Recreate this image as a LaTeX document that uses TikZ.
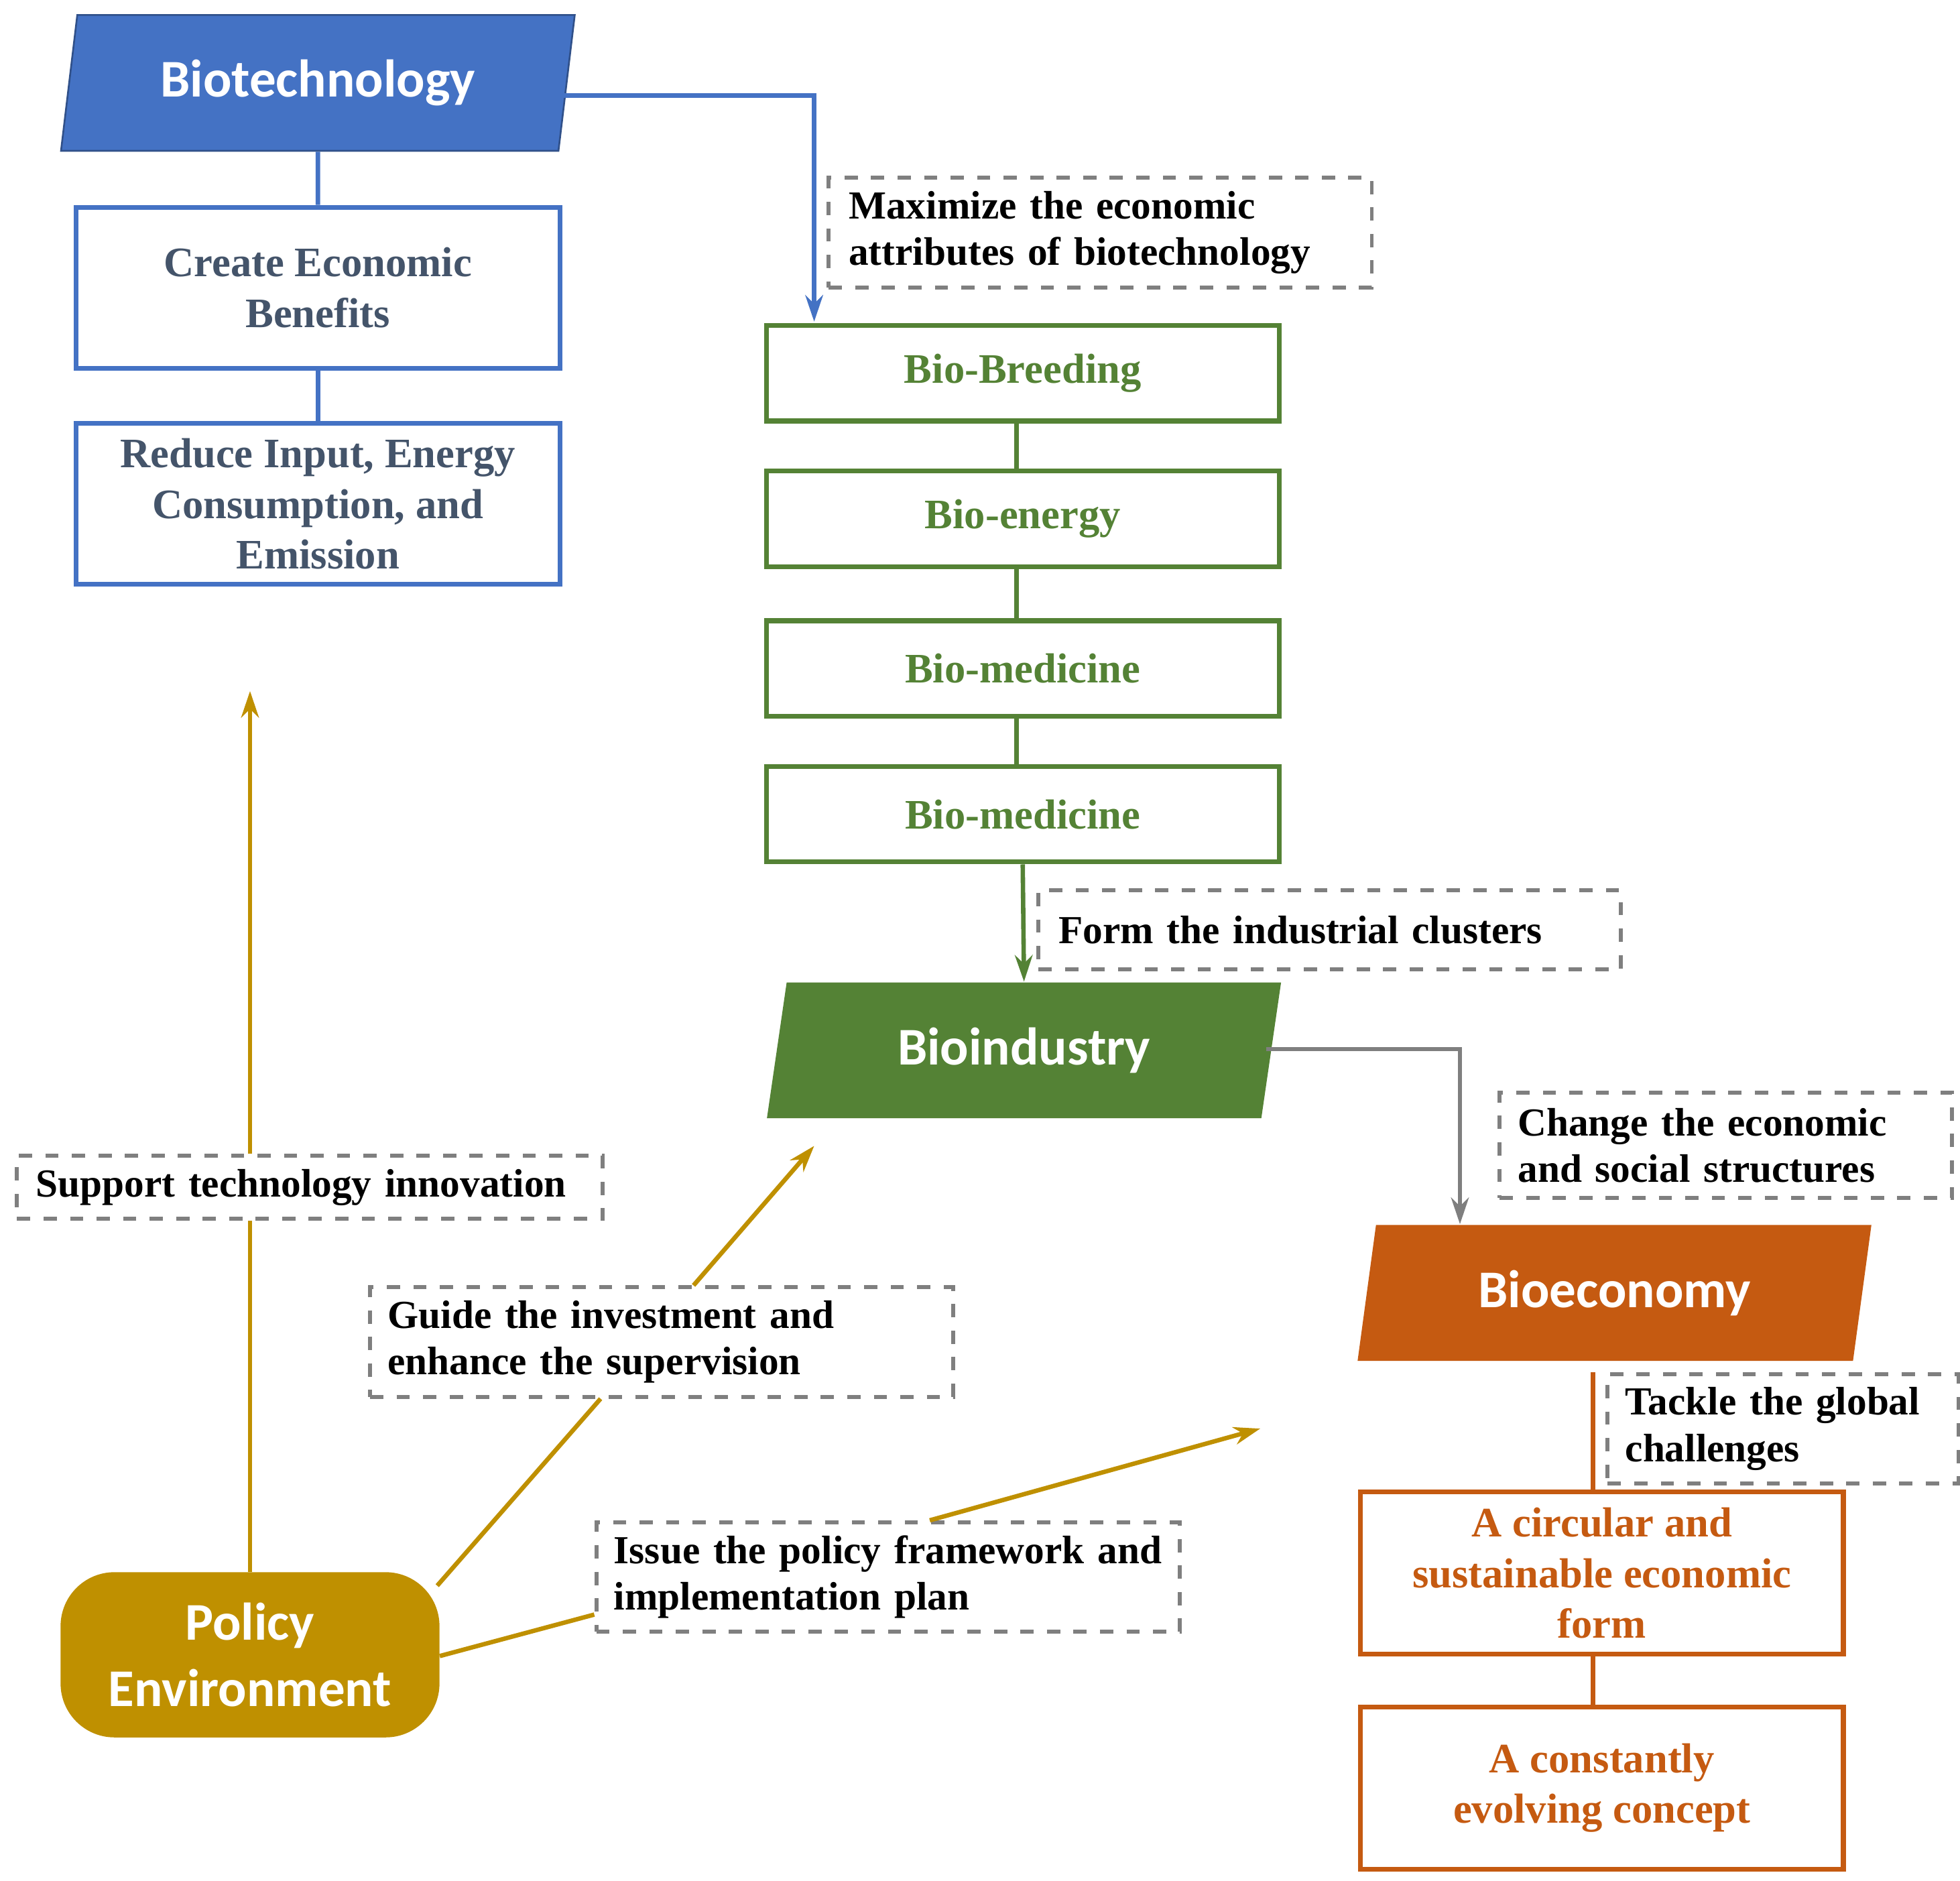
\documentclass[tikz,border=0pt]{standalone}
\usepackage{fontspec}
\setmainfont{Liberation Serif}
\newfontfamily\hdr{Carlito}
\usetikzlibrary{shapes.geometric,arrows.meta}
\definecolor{bluec}{HTML}{4472C4}
\definecolor{bluet}{HTML}{44546A}
\definecolor{greenc}{HTML}{548235}
\definecolor{orangec}{HTML}{C55A11}
\definecolor{goldc}{HTML}{BF9000}
\definecolor{greyc}{HTML}{7F7F7F}
\tikzset{
  head/.style={trapezium, trapezium left angle=77, trapezium right angle=103,
    trapezium stretches=true, minimum width=4.1cm, minimum height=1.08cm,
    inner sep=0pt, text=white, font=\hdr\bfseries\fontsize{12}{14}\selectfont},
  box/.style={draw, line width=1.1pt, align=center, inner sep=0pt,
    font=\bfseries\fontsize{9.5}{11.5}\selectfont},
  note/.style={draw=greyc, dashed, line width=0.9pt, align=left, anchor=north west,
    inner sep=0pt, text=black, font=\bfseries\fontsize{9}{10.5}\selectfont},
  link/.style={line width=1pt},
  tip/.style={-{Stealth[length=6pt,width=4pt]}}
}
\begin{document}
\begin{tikzpicture}[x=0.01cm,y=-0.01cm]
\useasboundingbox (0,0) rectangle (1560,1497);

% Biotechnology branch
\node[head, fill=bluec, draw=bluec!70!black] (biotech) at (253,66) {Biotechnology};
\node[box, draw=bluec, text=bluet, minimum width=3.85cm, minimum height=1.28cm] (benefit) at (253,229) {Create Economic\\Benefits};
\node[box, draw=bluec, text=bluet, minimum width=3.85cm, minimum height=1.28cm] (reduce) at (253,401) {Reduce Input, Energy\\Consumption, and\\Emission};
\draw[link, bluec] (biotech.south) -- (benefit.north);
\draw[link, bluec] (benefit.south) -- (reduce.north);
\coordinate (bend1) at (648,76);
\draw[link, bluec, tip] (442,76) -- (bend1) -- (648,256);
\node[note, minimum width=4.32cm, minimum height=0.87cm, text width=4.2cm] (maxim) at (658,140) {\hspace*{0.1cm}Maximize the economic\\\hspace*{0.1cm}attributes of biotechnology};

% Bioindustry branch
\foreach \n/\y/\t in {breed/297/Bio-Breeding, energy/413/Bio-energy, medA/532/Bio-medicine, medB/648/Bio-medicine}
  \node[box, draw=greenc, text=greenc, minimum width=4.08cm, minimum height=0.76cm] (\n) at (814,\y) {\t};
\draw[link, greenc] (breed.south -| 809,0) -- (energy.north -| 809,0);
\draw[link, greenc] (energy.south -| 809,0) -- (medA.north -| 809,0);
\draw[link, greenc] (medA.south -| 809,0) -- (medB.north -| 809,0);
\node[head, fill=greenc] (bioind) at (815,836) {Bioindustry};
\draw[link, greenc, tip] (medB.south) -- (bioind.north);
\node[note, minimum width=4.63cm, minimum height=0.63cm, text width=4.55cm] (form) at (825,707) {\hspace*{0.12cm}Form the industrial clusters};

% Bioeconomy branch
\node[head, fill=orangec] (bioeco) at (1285,1029) {Bioeconomy};
\coordinate (bend2) at (1162,835);
\draw[link, greyc, tip] (1008,835) -- (bend2) -- (bioeco.north -| 1162,0);
\node[note, minimum width=3.6cm, minimum height=0.84cm, text width=3.55cm] (change) at (1192,868) {\hspace*{0.12cm}Change the economic\\\hspace*{0.12cm}and social structures};
\node[box, draw=orangec, text=orangec, minimum width=3.84cm, minimum height=1.29cm] (circ) at (1275,1252) {A circular and\\sustainable economic\\form};
\node[box, draw=orangec, text=orangec, minimum width=3.84cm, minimum height=1.29cm] (evol) at (1275,1423) {A constantly\\evolving concept};
\draw[link, orangec] (1268,1092) -- (circ.north -| 1268,0);
\draw[link, orangec] (circ.south -| 1268,0) -- (evol.north -| 1268,0);
\node[note, minimum width=2.79cm, minimum height=0.87cm, text width=2.75cm] (tackle) at (1278,1092) {\hspace*{0.12cm}Tackle the global\\\hspace*{0.12cm}challenges};

% Policy environment
\node[draw=goldc, fill=goldc, rounded corners=12pt, minimum width=3cm, minimum height=1.3cm, align=center,
  text=white, font=\hdr\bfseries\fontsize{12}{15}\selectfont] (policy) at (199,1317) {Policy\\Environment};
\coordinate (up) at (199,550);
\node[note, fill=white, minimum width=4.66cm, minimum height=0.5cm, text width=4.6cm, anchor=west] (support) at (12,945) {\hspace*{0.12cm}Support technology innovation};
\draw[link, goldc] (policy.north) -- (support.south -| policy.north);
\draw[link, goldc, tip] (support.north -| policy.north) -- (up);
\node[note, minimum width=4.64cm, minimum height=0.87cm, text width=4.6cm] (guide) at (293,1023) {\hspace*{0.12cm}Guide the investment and\\\hspace*{0.12cm}enhance the supervision};
\coordinate (toind) at (648,912);
\draw[link, goldc] (348,1262) -- (guide.south -| 478,0);
\draw[link, goldc, tip] (guide.north -| 552,0) -- (toind);
\node[note, minimum width=4.64cm, minimum height=0.87cm, text width=4.6cm] (issue) at (473,1210) {\hspace*{0.12cm}Issue the policy framework and\\\hspace*{0.12cm}implementation plan};
\coordinate (toeco) at (1003,1137);
\draw[link, goldc] (350,1318) -- (issue.west |- 0,1285);
\draw[link, goldc, tip] (issue.north -| 740,0) -- (toeco);
\end{tikzpicture}
\end{document}
